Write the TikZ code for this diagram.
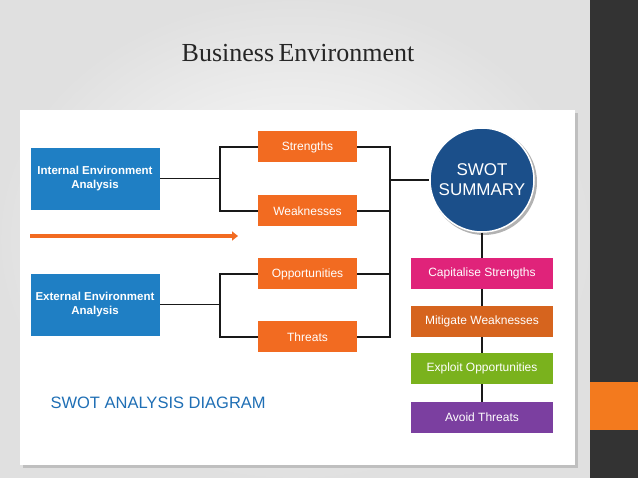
\documentclass[tikz,border=0pt]{standalone}
\usepackage{fontspec}
\usetikzlibrary{arrows.meta}
\setmainfont{Liberation Serif}
\newfontfamily\arialf{Liberation Sans}
\begin{document}
\begin{tikzpicture}[x=1pt,y=-1pt,
  bluebox/.style={fill=blueA,draw=white,line width=0.6pt,minimum width=130pt,minimum height=63pt,font=\arialf\bfseries\fontsize{11.5}{13.5}\selectfont,text=white,align=center},
  obox/.style={fill=orangeA,minimum width=99pt,minimum height=31pt,font=\arialf\fontsize{12}{14}\selectfont,text=white},
  rbox/.style={minimum width=142pt,minimum height=31pt,font=\arialf\fontsize{12}{14}\selectfont,text=white},
  ln/.style={line width=1.8pt,black!90}]
\definecolor{blueA}{HTML}{1F7FC4}
\definecolor{orangeA}{HTML}{F26B21}
\definecolor{navy}{HTML}{1B4F8A}
\useasboundingbox (0,0) rectangle (638,478);
\shade[inner color=white,outer color=black!12] (0,0) rectangle (590,478);
\fill[black!80] (590,0) rectangle (638,478);
\fill[orangeA!90!yellow] (590,382) rectangle (638,430);
\node[font=\fontsize{26}{30}\selectfont,text=black!85] (title) at (298,53) {Business\,Environment};
\fill[black!25] (23,113) rectangle (578,468);
\fill[white] (20,110) rectangle (575,465);
\node[bluebox] (ie) at (95,178.5) {Internal Environment\\Analysis};
\node[bluebox] (ee) at (95,304.5) {External Environment\\Analysis};
\node[obox] (s) at (307.5,147) {Strengths};
\node[obox] (w) at (307.5,211) {Weaknesses};
\node[obox] (o) at (307.5,274) {Opportunities};
\node[obox] (t) at (307.5,337) {Threats};
\coordinate (a1) at (30,236); \coordinate (a2) at (238,236);
\draw[orangeA,line width=4pt,-{Triangle[length=6pt,width=9pt]}] (a1) -- (a2);
\draw[ln] (ie.east) -- (220,178.5);
\draw[ln] (s.west) -- (220,147) -- (220,211) -- (w.west);
\draw[ln] (ee.east) -- (220,304.5);
\draw[ln] (o.west) -- (220,274) -- (220,337) -- (t.west);
\draw[ln] (s.east) -- (390,147) -- (390,337) -- (t.east);
\draw[ln] (w.east) -- (390,211) (o.east) -- (390,274);
\fill[black!30] (484,182) circle (53pt);
\node[circle,fill=navy,draw=white,line width=1.5pt,minimum size=104pt,text=white,font=\arialf\fontsize{17}{20}\selectfont,align=center] (sw) at (482,180) {SWOT\\SUMMARY};
\draw[ln] (390,180) -- (sw.west);
\node[rbox,fill={rgb,255:red,224;green,35;blue,122}] (cs) at (482,273.5) {Capitalise Strengths};
\node[rbox,fill={rgb,255:red,214;green,100;blue,30}] (mw) at (482,321.5) {Mitigate Weaknesses};
\node[rbox,fill={rgb,255:red,122;green,178;blue,29}] (eo) at (482,368.5) {Exploit Opportunities};
\node[rbox,fill={rgb,255:red,123;green,63;blue,160}] (at) at (482,417.5) {Avoid Threats};
\draw[ln] (sw.south) -- (cs.north) (cs.south) -- (mw.north) (mw.south) -- (eo.north) (eo.south) -- (at.north);
\node[anchor=west,font=\arialf\fontsize{16.5}{19}\selectfont,text={rgb,255:red,31;green,111;blue,181}] (lab) at (47,403) {SWOT ANALYSIS DIAGRAM};
\end{tikzpicture}
\end{document}
